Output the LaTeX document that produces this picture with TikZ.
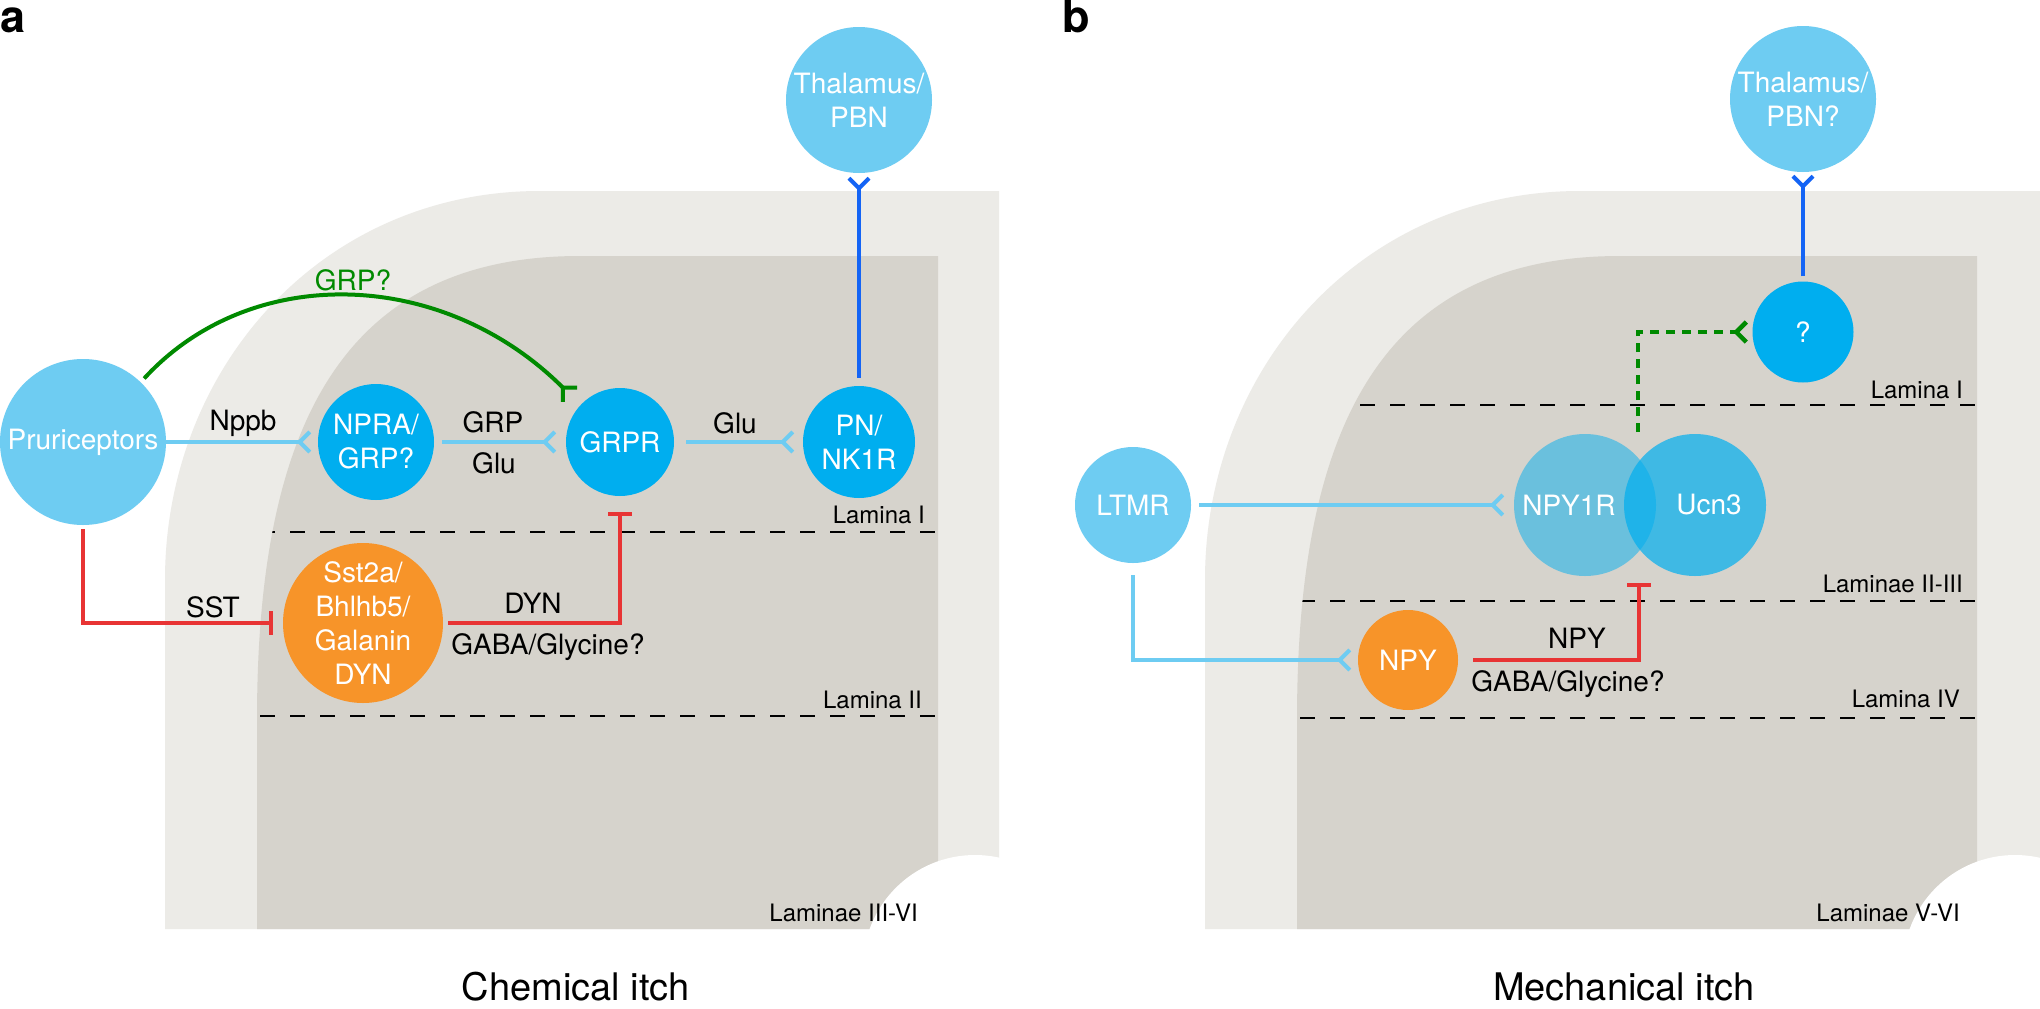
\documentclass[tikz,border=0pt]{standalone}
\usepackage{fontspec}
\setmainfont{TeX Gyre Heros}
\usetikzlibrary{arrows.meta}

\definecolor{lblue}{RGB}{110,204,242}
\definecolor{cyanb}{RGB}{0,174,239}
\definecolor{orng}{RGB}{247,148,41}
\definecolor{outerg}{RGB}{236,235,231}
\definecolor{innerg}{RGB}{214,211,204}
\definecolor{dblue}{RGB}{20,100,245}
\definecolor{redl}{RGB}{232,52,52}
\definecolor{greenl}{RGB}{0,138,0}

\pgfdeclarearrow{
  name = Fork,
  setup code = {
    \pgfarrowssettipend{0pt}
    \pgfarrowssetlineend{-\pgfarrowlength}
    \pgfarrowssetbackend{-\pgfarrowlength}
  },
  drawing code = {
    \pgfsetdash{}{0pt}
    \pgfpathmoveto{\pgfqpoint{0pt}{.5\pgfarrowwidth}}
    \pgfpathlineto{\pgfqpoint{-\pgfarrowlength}{0pt}}
    \pgfpathlineto{\pgfqpoint{0pt}{-.5\pgfarrowwidth}}
    \pgfusepathqstroke
  },
  defaults = {length = 10pt, width = 20pt}
}

\newcommand\celltextfont{\fontsize{28}{34}\selectfont}
\newcommand\lblfont{\fontsize{28}{34}\selectfont}
\newcommand\lamfont{\fontsize{24}{28}\selectfont}
\newcommand\titlefont{\fontsize{38}{44}\selectfont}
\newcommand\panelfont{\fontsize{45}{50}\selectfont\bfseries}

\tikzset{
  cell/.style={circle, inner sep=0pt, text=white, font=\celltextfont, align=center},
  celltxt/.style={inner sep=0pt, text=white, font=\celltextfont},
  exc/.style={draw=lblue, line width=4pt, -{Fork}},
  excd/.style={draw=dblue, line width=4pt, -{Fork}},
  excg/.style={draw=greenl, line width=4pt, -{Fork}},
  excgd/.style={draw=greenl, line width=4.5pt, dash pattern=on 9pt off 7pt, -{Fork}},
  inh/.style={draw=redl, line width=4pt, -{Bar[width=24pt]}},
  lbl/.style={font=\lblfont, anchor=base, inner sep=0pt, text=black},
  glbl/.style={font=\lblfont, anchor=base, inner sep=0pt, text=greenl},
  lam/.style={font=\lamfont, anchor=base east, inner sep=0pt, text=black},
  lamline/.style={draw=black, line width=2.5pt, dash pattern=on 15pt off 15pt},
  ttl/.style={font=\titlefont, anchor=base, inner sep=0pt},
  panel/.style={font=\panelfont, anchor=base west, inner sep=0pt}
}

\begin{document}
\begin{tikzpicture}[x=1pt, y=-1pt]
\useasboundingbox (0,0) rectangle (2040,1009);
\fill[white] (0,0) rectangle (2040,1009);

% ---------- Panel a background ----------
\fill[outerg] (165,929) -- (165,580) .. controls (165,370) and (320,191) .. (540,191) -- (999,191) -- (999,929) -- cycle;
\fill[innerg] (257,929) -- (257,720) .. controls (257,430) and (340,256) .. (580,256) -- (938,256) -- (938,929) -- cycle;
\fill[white] (975,967) circle[radius=112];
\begin{scope}
  \clip (257,929) -- (257,720) .. controls (257,430) and (340,256) .. (580,256) -- (938,256) -- (938,929) -- cycle;
  \draw[lamline] (200,532) -- (938,532);
  \draw[lamline] (200,716) -- (938,716);
\end{scope}

% ---------- Panel b background ----------
\fill[outerg] (1205,929) -- (1205,580) .. controls (1205,370) and (1360,191) .. (1580,191) -- (2040,191) -- (2040,929) -- cycle;
\fill[innerg] (1297,929) -- (1297,720) .. controls (1297,430) and (1380,256) .. (1620,256) -- (1977,256) -- (1977,929) -- cycle;
\fill[white] (2015,967) circle[radius=112];
\begin{scope}
  \clip (1297,929) -- (1297,720) .. controls (1297,430) and (1380,256) .. (1620,256) -- (1977,256) -- (1977,929) -- cycle;
  \draw[lamline] (1240,405) -- (1977,405);
  \draw[lamline] (1240,601) -- (1977,601);
  \draw[lamline] (1240,718) -- (1977,718);
\end{scope}

% ---------- Panel labels and titles ----------
\node[panel] (pa) at (0,32) {a};
\node[panel] (pb) at (1062,32) {b};
\node[ttl] (ta) at (576,1000) {Chemical itch};
\node[ttl] (tb) at (1624,1000) {Mechanical itch};

% ---------- Panel a nodes ----------
\node[cell, fill=lblue, minimum size=166] (prur) at (83,442) {Pruriceptors};
\node[cell, fill=cyanb, minimum size=116] (npra) at (376,442) {NPRA/\\GRP?};
\node[cell, fill=cyanb, minimum size=108] (grpr) at (620,442) {GRPR};
\node[cell, fill=cyanb, minimum size=112] (pn) at (859,442) {PN/\\NK1R};
\node[cell, fill=lblue, minimum size=146] (thal) at (859,100) {Thalamus/\\PBN};
\node[cell, fill=orng, minimum size=160] (sst) at (363,623) {Sst2a/\\Bhlhb5/\\Galanin\\DYN};

% ---------- Panel a connectors ----------
\draw[exc, shorten >=8pt] (prur) -- (npra);
\draw[exc, shorten <=8pt, shorten >=11pt] (npra) -- (grpr);
\draw[exc, shorten <=12pt, shorten >=10pt] (grpr) -- (pn);
\draw[excd, shorten <=8pt, shorten >=5pt] (pn) -- (thal);
\draw[excg, shorten <=5pt, shorten >=14.6pt] (prur.46) .. controls (251,262) and (443,268) .. (grpr.137);
\draw[inh, shorten <=4pt, shorten >=10pt] (prur.south) |- (sst.west);
\draw[inh, shorten <=5pt, shorten >=16pt] (sst.east) -| (grpr.south);

% ---------- Panel a labels ----------
\node[lbl] (lnppb) at (243,430) {Nppb};
\node[lbl] (lgrp) at (493,432) {GRP};
\node[lbl] (lglu1) at (494,473) {Glu};
\node[lbl] (lglu2) at (735,433) {Glu};
\node[glbl] (lgrpq) at (353,290) {GRP?};
\node[lbl] (lsst) at (213,617) {SST};
\node[lbl] (ldyn) at (533,613) {DYN};
\node[lbl] (lgaba1) at (548,654) {GABA/Glycine?};
\node[lam] (la1) at (925,523) {Lamina I};
\node[lam] (la2) at (922,708) {Lamina II};
\node[lam] (la3) at (918,921) {Laminae III-VI};

% ---------- Panel b nodes ----------
\node[cell, fill=lblue, minimum size=146] (thalb) at (1803,99) {Thalamus/\\PBN?};
\node[cell, fill=cyanb, minimum size=101] (q) at (1803,332) {?};
\node[cell, fill=lblue, minimum size=116] (ltmr) at (1133,505) {LTMR};
\node[cell, fill=cyanb, fill opacity=0.5, minimum size=142] (npy1r) at (1585,505) {};
\node[cell, fill=cyanb, fill opacity=0.7, minimum size=142] (ucn) at (1695,505) {};
\node[celltxt] (tnpy1r) at (1569,505) {NPY1R};
\node[celltxt] (tucn) at (1709,505) {Ucn3};
\node[cell, fill=orng, minimum size=100] (npy) at (1408,660) {NPY};
\coordinate (gtop) at (1638,432);
\coordinate (inhb) at (1639,583);

% ---------- Panel b connectors ----------
\draw[excd, shorten <=5pt, shorten >=4pt] (q) -- (thalb);
\draw[exc, shorten <=8pt, shorten >=11pt] (ltmr) -- (npy1r);
\draw[exc, shorten <=12pt, shorten >=8pt] (ltmr.south) |- (npy.west);
\draw[inh, shorten <=15pt] (npy.east) -| (inhb);
\draw[excgd, shorten >=6pt] (gtop) |- (q.west);

% ---------- Panel b labels ----------
\node[lbl] (lnpy) at (1577,648) {NPY};
\node[lbl] (lgaba2) at (1568,691) {GABA/Glycine?};
\node[lam] (lb1) at (1963,398) {Lamina I};
\node[lam] (lb2) at (1963,592) {Laminae II-III};
\node[lam] (lb3) at (1960,707) {Lamina IV};
\node[lam] (lb4) at (1960,921) {Laminae V-VI};
\end{tikzpicture}
\end{document}
